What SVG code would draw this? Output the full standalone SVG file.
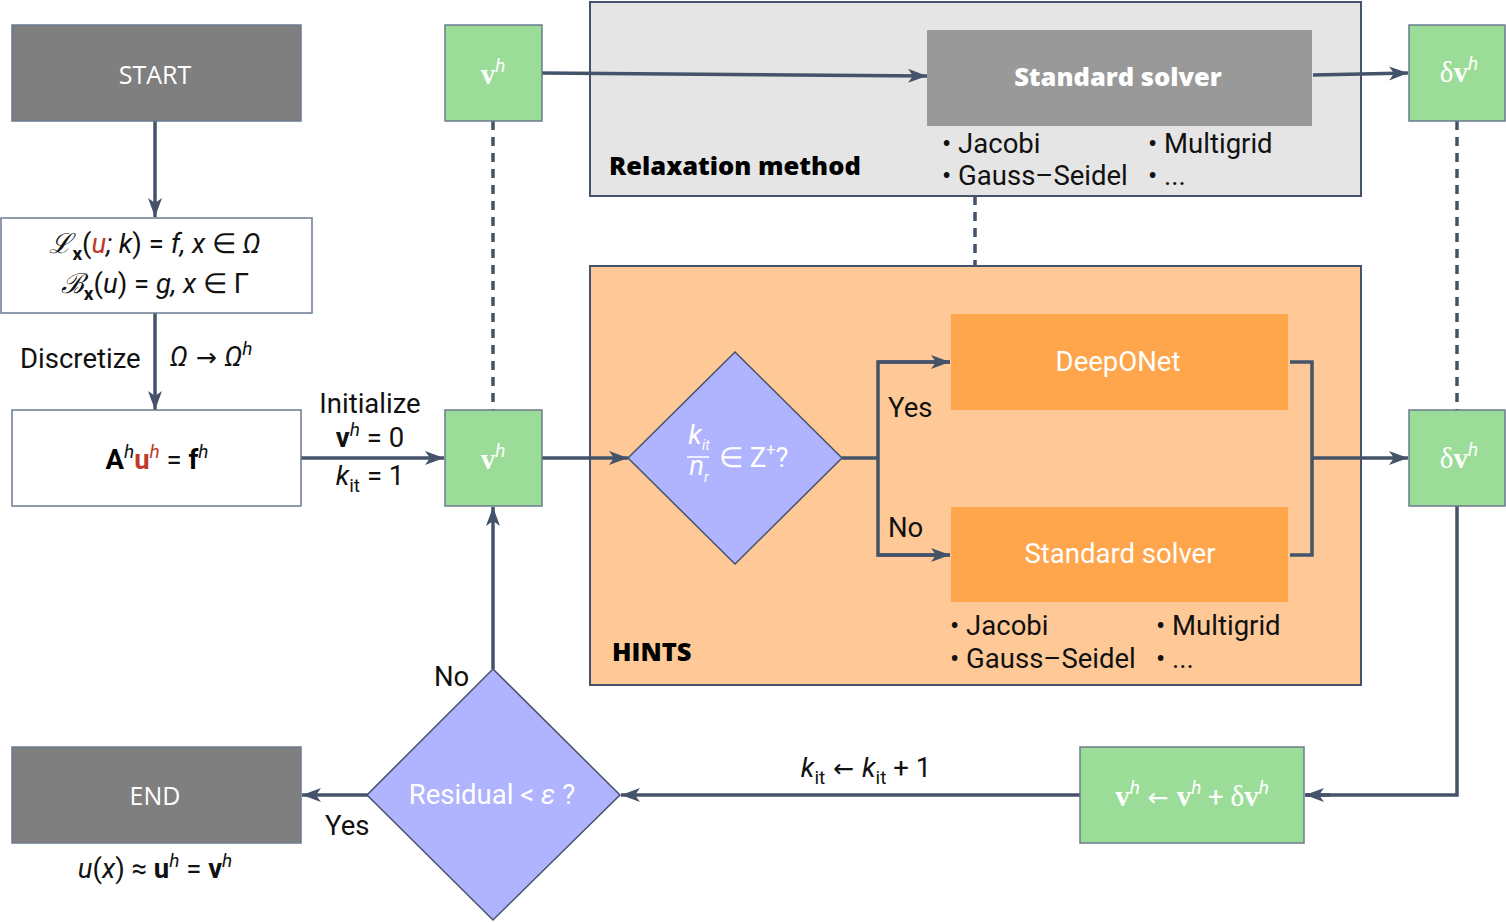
<svg xmlns="http://www.w3.org/2000/svg" width="1506" height="922" viewBox="0 0 1506 922">
<style>
.ln{stroke:#44536a;stroke-width:3.5;fill:none}
.dash{stroke:#44536a;stroke-width:3.5;fill:none;stroke-dasharray:9,7}
.box{stroke:#6b7a8f;stroke-width:1.5}
.gray{fill:#7f7f7f}
.green{fill:#9bdd98}
.dia{fill:#b0b3fe;stroke:#44536a;stroke-width:1.5}
.t{font-family:Roboto,"Liberation Sans",sans-serif;font-size:27.5px;fill:#111}
.w{fill:#fff}
.os{font-family:"Open Sans","Liberation Sans",sans-serif;font-size:25px;fill:#fff}
.serif{font-family:"Liberation Serif","DejaVu Serif",serif;font-weight:bold}
.it{font-style:italic}
.b{font-weight:bold}
.ar{font-family:"DejaVu Sans",sans-serif;font-size:25px}
.hv{font-family:"Open Sans",Lato,"Liberation Sans",sans-serif;font-weight:800;font-size:25.5px;fill:#000}
.red{fill:#c0392b}
</style>
<defs>
<marker id="ah" markerUnits="userSpaceOnUse" markerWidth="20" markerHeight="16" viewBox="0 0 20 16" refX="19" refY="8" orient="auto">
<path d="M0,1 L19,8 L0,15 L5,8 z" fill="#44536a"/>
</marker>
</defs>

<g id="relaxation">
<rect x="590" y="2" width="771" height="194" fill="#e5e5e5" stroke="#44536a" stroke-width="2"/>
<text class="hv" x="609" y="175">Relaxation method</text>
</g>
<g id="hints">
<rect x="590" y="266" width="771" height="419" fill="#fec996" stroke="#44536a" stroke-width="2"/>
<text class="hv" x="612" y="661">HINTS</text>
</g>

<g id="connectors">
<line class="ln" x1="155" y1="121" x2="155" y2="217" marker-end="url(#ah)"/>
<line class="ln" x1="155" y1="313" x2="155" y2="410" marker-end="url(#ah)"/>
<line class="ln" x1="301" y1="458" x2="444" y2="458" marker-end="url(#ah)"/>
<line class="dash" x1="493" y1="121" x2="493" y2="410"/>
<line class="ln" x1="542" y1="73" x2="927" y2="76" marker-end="url(#ah)"/>
<line class="ln" x1="1313" y1="75" x2="1408" y2="73" marker-end="url(#ah)"/>
<line class="dash" x1="1457" y1="121" x2="1457" y2="410"/>
<line class="dash" x1="975" y1="196" x2="975" y2="266"/>
<line class="ln" x1="542" y1="458" x2="628" y2="458" marker-end="url(#ah)"/>
<polyline class="ln" points="842,458 878,458"/>
<polyline class="ln" points="950,362 878,362 878,555 950,555"/>
<line class="ln" x1="878" y1="362" x2="950" y2="362" marker-end="url(#ah)"/>
<line class="ln" x1="878" y1="555" x2="950" y2="555" marker-end="url(#ah)"/>
<polyline class="ln" points="1290,362 1312,362 1312,555 1290,555"/>
<line class="ln" x1="1312" y1="458" x2="1408" y2="458" marker-end="url(#ah)"/>
<polyline class="ln" points="1457,506 1457,795 1306,795"/>
<line class="ln" x1="1330" y1="795" x2="1305" y2="795" marker-end="url(#ah)"/>
<line class="ln" x1="1080" y1="795" x2="621" y2="795" marker-end="url(#ah)"/>
<line class="ln" x1="493" y1="669" x2="493" y2="507" marker-end="url(#ah)"/>
<line class="ln" x1="368" y1="795" x2="302" y2="795" marker-end="url(#ah)"/>
<text class="t" x="20" y="368">Discretize</text>
<text class="t" x="170" y="366"><tspan class="it">Ω</tspan><tspan class="ar"> → </tspan><tspan class="it">Ω</tspan><tspan class="it" font-size="19" dy="-11">h</tspan></text>
<text class="t" x="370" y="413" text-anchor="middle">Initialize</text>
<text class="t" x="370" y="447" text-anchor="middle"><tspan class="b">v</tspan><tspan class="it" font-size="19" dy="-11">h</tspan><tspan dy="11"> = 0</tspan></text>
<text class="t" x="370" y="485" text-anchor="middle"><tspan class="it">k</tspan><tspan font-size="19" dy="7">it</tspan><tspan dy="-7"> = 1</tspan></text>
<text class="t" x="888" y="417">Yes</text>
<text class="t" x="888" y="537">No</text>
<text class="t" x="866" y="777" text-anchor="middle"><tspan class="it">k</tspan><tspan font-size="19" dy="7">it</tspan><tspan class="ar" dy="-7"> ← </tspan><tspan class="it">k</tspan><tspan font-size="19" dy="7">it</tspan><tspan dy="-7"> + 1</tspan></text>
<text class="t" x="434" y="686">No</text>
<text class="t" x="325" y="835">Yes</text>
</g>

<g id="start">
<rect class="box gray" x="12" y="25" width="289" height="96"/>
<text class="os" x="155" y="84" text-anchor="middle">START</text>
</g>
<g id="pde">
<rect class="box" x="1" y="218" width="311" height="95" fill="#fff"/>
<text class="t" x="155" y="253" text-anchor="middle"><tspan font-family="DejaVu Serif,serif" font-style="italic">ℒ</tspan><tspan class="b" font-size="19" dy="7">x</tspan><tspan dy="-7">(</tspan><tspan class="it red">u</tspan><tspan class="it">; k</tspan>) = <tspan class="it">f, x</tspan> ∈ <tspan class="it">Ω</tspan></text>
<text class="t" x="155" y="293" text-anchor="middle"><tspan font-family="DejaVu Serif,serif" font-style="italic">ℬ</tspan><tspan class="b" font-size="19" dy="7">x</tspan><tspan dy="-7">(</tspan><tspan class="it">u</tspan>) = <tspan class="it">g, x</tspan> ∈ Γ</text>
</g>
<g id="discrete">
<rect class="box" x="12" y="410" width="289" height="96" fill="#fff"/>
<text class="t" x="157" y="469" text-anchor="middle"><tspan class="b" fill="#000">A</tspan><tspan class="it" font-size="19" dy="-11">h</tspan><tspan class="b red" dy="11">u</tspan><tspan class="it red" font-size="19" dy="-11">h</tspan><tspan dy="11"> = </tspan><tspan class="b" fill="#000">f</tspan><tspan class="it" font-size="19" dy="-11">h</tspan></text>
</g>
<g id="v-top">
<rect class="box green" x="445" y="25" width="97" height="96"/>
<text class="t w" x="493" y="84" text-anchor="middle"><tspan class="serif" font-size="29">v</tspan><tspan class="it" font-size="19" dy="-12">h</tspan></text>
</g>
<g id="standard-solver-top">
<rect x="927" y="30" width="385" height="96" fill="#999"/>
<text class="hv" x="1118" y="86" text-anchor="middle" style="fill:#fff">Standard solver</text>
<text class="t" x="942" y="153">• Jacobi</text>
<text class="t" x="1148" y="153">• Multigrid</text>
<text class="t" x="942" y="185">• Gauss–Seidel</text>
<text class="t" x="1148" y="185">• ...</text>
</g>
<g id="dv-top">
<rect class="box green" x="1409" y="25" width="96" height="96"/>
<text class="t w" x="1459" y="82" text-anchor="middle"><tspan font-family="Liberation Serif,serif" font-size="29">δ</tspan><tspan class="serif" font-size="29">v</tspan><tspan class="it" font-size="19" dy="-12">h</tspan></text>
</g>
<g id="v-mid">
<rect class="box green" x="445" y="410" width="97" height="96"/>
<text class="t w" x="493" y="469" text-anchor="middle"><tspan class="serif" font-size="29">v</tspan><tspan class="it" font-size="19" dy="-12">h</tspan></text>
</g>
<g id="check-nr">
<polygon class="dia" points="735,352 842,458 735,564 628,458"/>
<text class="t w" x="699" y="444" text-anchor="middle" font-size="22"><tspan class="it">k</tspan><tspan class="it" font-size="14" dy="6">it</tspan></text>
<line x1="687" y1="457" x2="709" y2="457" stroke="#fff" stroke-width="1.5"/>
<text class="t w" x="699" y="475" text-anchor="middle" font-size="22"><tspan class="it">n</tspan><tspan class="it" font-size="14" dy="7">r</tspan></text>
<text class="t w" x="719" y="467" font-size="28">∈ Z<tspan font-size="16" dy="-12">+</tspan><tspan dy="12">?</tspan></text>
</g>
<g id="deeponet">
<rect x="951" y="314" width="337" height="96" fill="#ffa54c"/>
<text class="t w" x="1118" y="371" text-anchor="middle">DeepONet</text>
</g>
<g id="standard-solver-hints">
<rect x="951" y="507" width="337" height="95" fill="#ffa54c"/>
<text class="t w" x="1120" y="563" text-anchor="middle">Standard solver</text>
<text class="t" x="950" y="635">• Jacobi</text>
<text class="t" x="1156" y="635">• Multigrid</text>
<text class="t" x="950" y="668">• Gauss–Seidel</text>
<text class="t" x="1156" y="668">• ...</text>
</g>
<g id="dv-mid">
<rect class="box green" x="1409" y="410" width="96" height="96"/>
<text class="t w" x="1459" y="468" text-anchor="middle"><tspan font-family="Liberation Serif,serif" font-size="29">δ</tspan><tspan class="serif" font-size="29">v</tspan><tspan class="it" font-size="19" dy="-12">h</tspan></text>
</g>
<g id="update">
<rect class="box green" x="1080" y="747" width="224" height="96"/>
<text class="t w" x="1192" y="806" text-anchor="middle"><tspan class="serif" font-size="29">v</tspan><tspan class="it" font-size="19" dy="-12">h</tspan><tspan class="ar" dy="12"> ← </tspan><tspan class="serif" font-size="29">v</tspan><tspan class="it" font-size="19" dy="-12">h</tspan><tspan dy="12"> + </tspan><tspan font-family="Liberation Serif,serif" font-size="29">δ</tspan><tspan class="serif" font-size="29">v</tspan><tspan class="it" font-size="19" dy="-12">h</tspan></text>
</g>
<g id="residual">
<polygon class="dia" points="493,669 620,795 493,920 367,795"/>
<text class="t w" x="492" y="804" text-anchor="middle">Residual &lt; <tspan class="it">ε</tspan> ?</text>
</g>
<g id="end">
<rect class="box gray" x="12" y="747" width="289" height="96"/>
<text class="os" x="155" y="805" text-anchor="middle">END</text>
<text class="t" x="155" y="878" text-anchor="middle"><tspan class="it">u</tspan>(<tspan class="it">x</tspan>) ≈ <tspan class="b">u</tspan><tspan class="it" font-size="19" dy="-11">h</tspan><tspan dy="11"> = </tspan><tspan class="b">v</tspan><tspan class="it" font-size="19" dy="-11">h</tspan></text>
</g>
</svg>
